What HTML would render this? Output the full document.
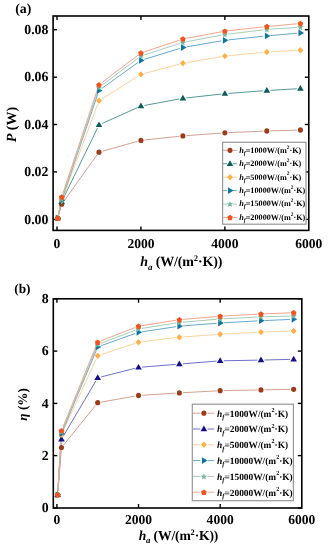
<!DOCTYPE html>
<html><head><meta charset="utf-8"><style>
html,body{margin:0;padding:0;background:#fff;}
body{width:328px;height:550px;overflow:hidden;}
svg{display:block;}
.tl{font-family:"Liberation Serif","Times New Roman",serif;font-weight:bold;fill:#000;text-rendering:geometricPrecision;}
</style></head><body>
<svg width="328" height="550" viewBox="0 0 328 550">
<text transform="translate(15.20,13.00) scale(1,1.0)" font-size="13.8" text-anchor="start" class="tl">(a)</text>
<rect x="53.10" y="16.00" width="255.70" height="214.40" fill="none" stroke="#000" stroke-width="1.6"/>
<line x1="57.00" y1="230.40" x2="57.00" y2="226.40" stroke="#000" stroke-width="1.4"/>
<line x1="57.00" y1="16.00" x2="57.00" y2="20.00" stroke="#000" stroke-width="1.4"/>
<line x1="140.93" y1="230.40" x2="140.93" y2="226.40" stroke="#000" stroke-width="1.4"/>
<line x1="140.93" y1="16.00" x2="140.93" y2="20.00" stroke="#000" stroke-width="1.4"/>
<line x1="224.87" y1="230.40" x2="224.87" y2="226.40" stroke="#000" stroke-width="1.4"/>
<line x1="224.87" y1="16.00" x2="224.87" y2="20.00" stroke="#000" stroke-width="1.4"/>
<line x1="53.10" y1="219.40" x2="57.10" y2="219.40" stroke="#000" stroke-width="1.4"/>
<line x1="308.80" y1="219.40" x2="304.80" y2="219.40" stroke="#000" stroke-width="1.4"/>
<line x1="53.10" y1="171.90" x2="57.10" y2="171.90" stroke="#000" stroke-width="1.4"/>
<line x1="308.80" y1="171.90" x2="304.80" y2="171.90" stroke="#000" stroke-width="1.4"/>
<line x1="53.10" y1="124.50" x2="57.10" y2="124.50" stroke="#000" stroke-width="1.4"/>
<line x1="308.80" y1="124.50" x2="304.80" y2="124.50" stroke="#000" stroke-width="1.4"/>
<line x1="53.10" y1="77.20" x2="57.10" y2="77.20" stroke="#000" stroke-width="1.4"/>
<line x1="308.80" y1="77.20" x2="304.80" y2="77.20" stroke="#000" stroke-width="1.4"/>
<line x1="53.10" y1="29.70" x2="57.10" y2="29.70" stroke="#000" stroke-width="1.4"/>
<line x1="308.80" y1="29.70" x2="304.80" y2="29.70" stroke="#000" stroke-width="1.4"/>
<path d="M58.73,214.73L60.72,207.67M63.80,201.27L96.87,155.13M102.43,151.23L137.47,141.37M144.51,140.02L179.32,136.28M186.49,135.63L221.28,133.07M228.46,132.65L263.24,131.15M270.43,130.89L296.81,130.11" fill="none" stroke="#d6a090" stroke-width="1"/>
<path d="M58.60,214.70L60.86,205.30M63.27,198.56L97.40,128.14M102.25,123.43L137.65,107.57M144.47,105.44L179.36,98.96M186.48,97.91L221.29,94.09M228.46,93.43L263.24,90.77M270.43,90.30L296.81,88.80" fill="none" stroke="#559a9a" stroke-width="1"/>
<path d="M58.55,214.69L60.90,204.31M62.96,197.43L97.71,104.07M102.02,98.79L137.88,76.31M144.41,73.47L179.42,64.13M186.45,62.60L221.32,56.70M228.45,55.75L263.25,52.35M270.43,51.81L296.81,50.39" fill="none" stroke="#ffd29c" stroke-width="1"/>
<path d="M58.53,214.68L60.93,203.72M62.86,196.79L97.81,93.91M101.89,88.40L138.01,62.50M144.37,59.34L179.46,48.56M186.45,46.89L221.32,40.91M228.45,39.92L263.25,36.28M270.42,35.58L296.82,33.22" fill="none" stroke="#64aacf" stroke-width="1"/>
<path d="M58.49,214.68L60.97,202.72M62.84,195.79L97.83,90.91M101.85,85.34L138.05,58.16M144.36,54.89L179.48,43.51M186.44,41.73L221.33,35.17M228.44,34.07L263.26,29.83M270.43,29.16L296.81,27.44" fill="none" stroke="#a6cdb9" stroke-width="1"/>
<path d="M58.41,214.66L61.04,200.54M62.84,193.58L97.83,88.22M101.84,82.63L138.06,55.17M144.35,51.86L179.49,40.14M186.44,38.33L221.33,31.77M228.45,30.71L263.25,26.89M270.42,26.18L296.82,23.82" fill="none" stroke="#f7a488" stroke-width="1"/>
<ellipse cx="57.76" cy="218.20" rx="2.55" ry="2.65" fill="#9c3c1a"/>
<ellipse cx="61.70" cy="204.20" rx="2.55" ry="2.65" fill="#9c3c1a"/>
<ellipse cx="98.97" cy="152.20" rx="2.55" ry="2.65" fill="#9c3c1a"/>
<ellipse cx="140.93" cy="140.40" rx="2.55" ry="2.65" fill="#9c3c1a"/>
<ellipse cx="182.90" cy="135.90" rx="2.55" ry="2.65" fill="#9c3c1a"/>
<ellipse cx="224.87" cy="132.80" rx="2.55" ry="2.65" fill="#9c3c1a"/>
<ellipse cx="266.83" cy="131.00" rx="2.55" ry="2.65" fill="#9c3c1a"/>
<ellipse cx="300.41" cy="130.00" rx="2.55" ry="2.65" fill="#9c3c1a"/>
<polygon points="57.76,214.70 61.08,220.37 54.43,220.37" fill="#0d5c5c"/>
<polygon points="61.70,198.30 65.03,203.97 58.38,203.97" fill="#0d5c5c"/>
<polygon points="98.97,121.40 102.29,127.07 95.64,127.07" fill="#0d5c5c"/>
<polygon points="140.93,102.60 144.26,108.27 137.61,108.27" fill="#0d5c5c"/>
<polygon points="182.90,94.80 186.22,100.47 179.58,100.47" fill="#0d5c5c"/>
<polygon points="224.87,90.20 228.19,95.87 221.54,95.87" fill="#0d5c5c"/>
<polygon points="266.83,87.00 270.16,92.67 263.51,92.67" fill="#0d5c5c"/>
<polygon points="300.41,85.10 303.73,90.77 297.08,90.77" fill="#0d5c5c"/>
<polygon points="57.76,215.00 60.71,218.20 57.76,221.40 54.81,218.20" fill="#ffb048"/>
<polygon points="61.70,197.60 64.65,200.80 61.70,204.00 58.75,200.80" fill="#ffb048"/>
<polygon points="98.97,97.50 101.92,100.70 98.97,103.90 96.02,100.70" fill="#ffb048"/>
<polygon points="140.93,71.20 143.88,74.40 140.93,77.60 137.98,74.40" fill="#ffb048"/>
<polygon points="182.90,60.00 185.85,63.20 182.90,66.40 179.95,63.20" fill="#ffb048"/>
<polygon points="224.87,52.90 227.82,56.10 224.87,59.30 221.92,56.10" fill="#ffb048"/>
<polygon points="266.83,48.80 269.78,52.00 266.83,55.20 263.88,52.00" fill="#ffb048"/>
<polygon points="300.41,47.00 303.36,50.20 300.41,53.40 297.46,50.20" fill="#ffb048"/>
<polygon points="61.36,218.20 55.78,214.78 55.78,221.62" fill="#12739e"/>
<polygon points="65.30,200.20 59.72,196.78 59.72,203.62" fill="#12739e"/>
<polygon points="102.57,90.50 96.99,87.08 96.99,93.92" fill="#12739e"/>
<polygon points="144.53,60.40 138.95,56.98 138.95,63.82" fill="#12739e"/>
<polygon points="186.50,47.50 180.92,44.08 180.92,50.92" fill="#12739e"/>
<polygon points="228.47,40.30 222.89,36.88 222.89,43.72" fill="#12739e"/>
<polygon points="270.43,35.90 264.85,32.48 264.85,39.32" fill="#12739e"/>
<polygon points="304.01,32.90 298.43,29.48 298.43,36.32" fill="#12739e"/>
<polygon points="57.76,215.10 58.61,217.33 60.99,217.45 59.13,218.95 59.75,221.25 57.76,219.95 55.76,221.25 56.38,218.95 54.52,217.45 56.90,217.33" fill="#72b9a0"/>
<polygon points="61.70,196.10 62.55,198.33 64.93,198.45 63.08,199.95 63.70,202.25 61.70,200.95 59.70,202.25 60.32,199.95 58.47,198.45 60.85,198.33" fill="#72b9a0"/>
<polygon points="98.97,84.40 99.82,86.63 102.20,86.75 100.35,88.25 100.97,90.55 98.97,89.25 96.97,90.55 97.59,88.25 95.73,86.75 98.11,86.63" fill="#72b9a0"/>
<polygon points="140.93,52.90 141.79,55.13 144.17,55.25 142.31,56.75 142.93,59.05 140.93,57.75 138.93,59.05 139.55,56.75 137.70,55.25 140.08,55.13" fill="#72b9a0"/>
<polygon points="182.90,39.30 183.75,41.53 186.13,41.65 184.28,43.15 184.90,45.45 182.90,44.15 180.90,45.45 181.52,43.15 179.67,41.65 182.05,41.53" fill="#72b9a0"/>
<polygon points="224.87,31.40 225.72,33.63 228.10,33.75 226.25,35.25 226.87,37.55 224.87,36.25 222.87,37.55 223.49,35.25 221.63,33.75 224.01,33.63" fill="#72b9a0"/>
<polygon points="266.83,26.30 267.69,28.53 270.07,28.65 268.21,30.15 268.83,32.45 266.83,31.15 264.83,32.45 265.45,30.15 263.60,28.65 265.98,28.53" fill="#72b9a0"/>
<polygon points="300.41,24.10 301.26,26.33 303.64,26.45 301.79,27.95 302.41,30.25 300.41,28.95 298.41,30.25 299.03,27.95 297.17,26.45 299.55,26.33" fill="#72b9a0"/>
<polygon points="57.76,215.50 60.61,217.57 59.52,220.93 55.99,220.93 54.90,217.57" fill="#f2541f"/>
<polygon points="61.70,194.30 64.55,196.37 63.46,199.73 59.94,199.73 58.85,196.37" fill="#f2541f"/>
<polygon points="98.97,82.10 101.82,84.17 100.73,87.53 97.20,87.53 96.11,84.17" fill="#f2541f"/>
<polygon points="140.93,50.30 143.79,52.37 142.70,55.73 139.17,55.73 138.08,52.37" fill="#f2541f"/>
<polygon points="182.90,36.30 185.75,38.37 184.66,41.73 181.14,41.73 180.05,38.37" fill="#f2541f"/>
<polygon points="224.87,28.40 227.72,30.47 226.63,33.83 223.10,33.83 222.01,30.47" fill="#f2541f"/>
<polygon points="266.83,23.80 269.69,25.87 268.60,29.23 265.07,29.23 263.98,25.87" fill="#f2541f"/>
<polygon points="300.41,20.80 303.26,22.87 302.17,26.23 298.64,26.23 297.55,22.87" fill="#f2541f"/>
<text transform="translate(48.40,223.55) scale(1,1.0)" font-size="13.8" text-anchor="end" class="tl">0.00</text>
<text transform="translate(48.40,176.05) scale(1,1.0)" font-size="13.8" text-anchor="end" class="tl">0.02</text>
<text transform="translate(48.40,128.65) scale(1,1.0)" font-size="13.8" text-anchor="end" class="tl">0.04</text>
<text transform="translate(48.40,81.35) scale(1,1.0)" font-size="13.8" text-anchor="end" class="tl">0.06</text>
<text transform="translate(48.40,33.85) scale(1,1.0)" font-size="13.8" text-anchor="end" class="tl">0.08</text>
<text transform="translate(57.00,247.50) scale(1,1.0)" font-size="13.55" text-anchor="middle" class="tl">0</text>
<text transform="translate(140.93,247.50) scale(1,1.0)" font-size="13.55" text-anchor="middle" class="tl">2000</text>
<text transform="translate(224.87,247.50) scale(1,1.0)" font-size="13.55" text-anchor="middle" class="tl">4000</text>
<text transform="translate(308.80,247.50) scale(1,1.0)" font-size="13.55" text-anchor="middle" class="tl">6000</text>
<text transform="translate(15.60,124.65) rotate(-90) scale(1,1.0)" font-size="14.0" text-anchor="middle" class="tl"><tspan font-style="italic">P</tspan> (W)</text>
<text transform="translate(140.30,266.40) scale(1,1.0)" font-size="14" text-anchor="start" class="tl" letter-spacing="-0.15"><tspan font-style="italic">h</tspan><tspan font-style="italic" font-size="9" dy="3.2">a</tspan><tspan dy="-3.2"> (W/(m</tspan><tspan font-size="8.6" dy="-5">2</tspan><tspan dy="5">·K))</tspan></text>
<rect x="222.60" y="142.30" width="83.40" height="81.90" fill="#fff" stroke="#979797" stroke-width="1.2"/>
<path d="M223.10,150.30L227.10,150.30M232.90,150.30L236.90,150.30" stroke="#d6a090" stroke-width="1"/>
<ellipse cx="230.00" cy="150.30" rx="2.55" ry="2.65" fill="#9c3c1a"/>
<text transform="translate(239.20,152.65) scale(1,1.0)" font-size="8.2" text-anchor="start" class="tl"><tspan font-style="italic">h</tspan><tspan font-style="italic" font-size="5.74" dy="2.05">f</tspan><tspan dy="-2.05">=1000W/(m</tspan><tspan font-size="5.33" dy="-4.10">2</tspan><tspan dy="4.10">·K)</tspan></text>
<path d="M223.10,163.74L227.10,163.74M232.90,163.74L236.90,163.74" stroke="#559a9a" stroke-width="1"/>
<polygon points="230.00,160.24 233.32,165.91 226.68,165.91" fill="#0d5c5c"/>
<text transform="translate(239.20,166.09) scale(1,1.0)" font-size="8.2" text-anchor="start" class="tl"><tspan font-style="italic">h</tspan><tspan font-style="italic" font-size="5.74" dy="2.05">f</tspan><tspan dy="-2.05">=2000W/(m</tspan><tspan font-size="5.33" dy="-4.10">2</tspan><tspan dy="4.10">·K)</tspan></text>
<path d="M223.10,177.18L227.10,177.18M232.90,177.18L236.90,177.18" stroke="#ffd29c" stroke-width="1"/>
<polygon points="230.00,173.98 232.95,177.18 230.00,180.38 227.05,177.18" fill="#ffb048"/>
<text transform="translate(239.20,179.53) scale(1,1.0)" font-size="8.2" text-anchor="start" class="tl"><tspan font-style="italic">h</tspan><tspan font-style="italic" font-size="5.74" dy="2.05">f</tspan><tspan dy="-2.05">=5000W/(m</tspan><tspan font-size="5.33" dy="-4.10">2</tspan><tspan dy="4.10">·K)</tspan></text>
<path d="M223.10,190.62L227.10,190.62M232.90,190.62L236.90,190.62" stroke="#64aacf" stroke-width="1"/>
<polygon points="233.60,190.62 228.02,187.20 228.02,194.04" fill="#12739e"/>
<text transform="translate(239.20,192.97) scale(1,1.0)" font-size="8.2" text-anchor="start" class="tl"><tspan font-style="italic">h</tspan><tspan font-style="italic" font-size="5.74" dy="2.05">f</tspan><tspan dy="-2.05">=10000W/(m</tspan><tspan font-size="5.33" dy="-4.10">2</tspan><tspan dy="4.10">·K)</tspan></text>
<path d="M223.10,204.06L227.10,204.06M232.90,204.06L236.90,204.06" stroke="#a6cdb9" stroke-width="1"/>
<polygon points="230.00,200.96 230.85,203.19 233.23,203.31 231.38,204.81 232.00,207.11 230.00,205.81 228.00,207.11 228.62,204.81 226.77,203.31 229.15,203.19" fill="#72b9a0"/>
<text transform="translate(239.20,206.41) scale(1,1.0)" font-size="8.2" text-anchor="start" class="tl"><tspan font-style="italic">h</tspan><tspan font-style="italic" font-size="5.74" dy="2.05">f</tspan><tspan dy="-2.05">=15000W/(m</tspan><tspan font-size="5.33" dy="-4.10">2</tspan><tspan dy="4.10">·K)</tspan></text>
<path d="M223.10,217.50L227.10,217.50M232.90,217.50L236.90,217.50" stroke="#f7a488" stroke-width="1"/>
<polygon points="230.00,214.80 232.85,216.87 231.76,220.23 228.24,220.23 227.15,216.87" fill="#f2541f"/>
<text transform="translate(239.20,219.85) scale(1,1.0)" font-size="8.2" text-anchor="start" class="tl"><tspan font-style="italic">h</tspan><tspan font-style="italic" font-size="5.74" dy="2.05">f</tspan><tspan dy="-2.05">=20000W/(m</tspan><tspan font-size="5.33" dy="-4.10">2</tspan><tspan dy="4.10">·K)</tspan></text>
<text transform="translate(14.20,293.30) scale(1,1.0)" font-size="13.3" text-anchor="start" class="tl">(b)</text>
<rect x="53.30" y="298.80" width="248.50" height="209.20" fill="none" stroke="#000" stroke-width="1.6"/>
<line x1="56.90" y1="508.00" x2="56.90" y2="504.00" stroke="#000" stroke-width="1.4"/>
<line x1="56.90" y1="298.80" x2="56.90" y2="302.80" stroke="#000" stroke-width="1.4"/>
<line x1="138.53" y1="508.00" x2="138.53" y2="504.00" stroke="#000" stroke-width="1.4"/>
<line x1="138.53" y1="298.80" x2="138.53" y2="302.80" stroke="#000" stroke-width="1.4"/>
<line x1="220.17" y1="508.00" x2="220.17" y2="504.00" stroke="#000" stroke-width="1.4"/>
<line x1="220.17" y1="298.80" x2="220.17" y2="302.80" stroke="#000" stroke-width="1.4"/>
<line x1="53.30" y1="508.00" x2="57.30" y2="508.00" stroke="#000" stroke-width="1.4"/>
<line x1="301.80" y1="508.00" x2="297.80" y2="508.00" stroke="#000" stroke-width="1.4"/>
<line x1="53.30" y1="455.60" x2="57.30" y2="455.60" stroke="#000" stroke-width="1.4"/>
<line x1="301.80" y1="455.60" x2="297.80" y2="455.60" stroke="#000" stroke-width="1.4"/>
<line x1="53.30" y1="403.40" x2="57.30" y2="403.40" stroke="#000" stroke-width="1.4"/>
<line x1="301.80" y1="403.40" x2="297.80" y2="403.40" stroke="#000" stroke-width="1.4"/>
<line x1="53.30" y1="351.10" x2="57.30" y2="351.10" stroke="#000" stroke-width="1.4"/>
<line x1="301.80" y1="351.10" x2="297.80" y2="351.10" stroke="#000" stroke-width="1.4"/>
<line x1="53.30" y1="298.80" x2="57.30" y2="298.80" stroke="#000" stroke-width="1.4"/>
<line x1="301.80" y1="298.80" x2="297.80" y2="298.80" stroke="#000" stroke-width="1.4"/>
<path d="M57.93,491.21L61.18,451.19M63.73,444.80L95.46,405.50M101.26,402.07L134.99,396.13M142.13,395.27L175.76,393.13M182.94,392.71L216.57,390.89M223.77,390.63L257.38,389.97M264.58,389.83L290.04,389.37" fill="none" stroke="#d6a090" stroke-width="1"/>
<path d="M57.88,491.21L61.22,442.89M63.30,436.20L95.89,380.90M101.21,376.91L135.04,368.29M142.12,367.11L175.76,364.39M182.94,363.81L216.58,361.09M223.77,360.74L257.38,360.16M264.58,360.01L290.04,359.39" fill="none" stroke="#7070cd" stroke-width="1"/>
<path d="M57.86,491.21L61.24,438.09M62.98,431.23L96.21,359.07M101.13,354.66L135.12,343.34M142.11,341.76L175.78,337.64M182.94,336.94L216.58,334.56M223.76,334.11L257.39,332.29M264.58,331.98L290.04,331.12" fill="none" stroke="#ffd29c" stroke-width="1"/>
<path d="M57.86,491.21L61.25,437.09M62.86,430.18L96.33,350.22M101.11,345.69L135.14,333.51M142.09,331.77L175.79,326.73M182.94,325.92L216.58,323.28M223.76,322.80L257.39,320.90M264.58,320.55L290.04,319.45" fill="none" stroke="#64aacf" stroke-width="1"/>
<path d="M57.85,491.21L61.25,435.59M62.85,428.67L96.34,347.83M101.08,343.22L135.17,330.28M142.09,328.43L175.79,323.07M182.94,322.19L216.58,319.31M223.76,318.81L257.39,316.99M264.58,316.71L290.04,316.09" fill="none" stroke="#a6cdb9" stroke-width="1"/>
<path d="M57.85,491.21L61.26,434.19M62.84,427.27L96.35,345.53M101.07,340.89L135.18,327.51M142.09,325.63L175.79,320.27M182.94,319.39L216.58,316.51M223.76,316.01L257.39,314.19M264.58,313.86L290.04,312.84" fill="none" stroke="#f7a488" stroke-width="1"/>
<ellipse cx="57.63" cy="494.80" rx="2.55" ry="2.65" fill="#9c3c1a"/>
<ellipse cx="61.47" cy="447.60" rx="2.55" ry="2.65" fill="#9c3c1a"/>
<ellipse cx="97.72" cy="402.70" rx="2.55" ry="2.65" fill="#9c3c1a"/>
<ellipse cx="138.53" cy="395.50" rx="2.55" ry="2.65" fill="#9c3c1a"/>
<ellipse cx="179.35" cy="392.90" rx="2.55" ry="2.65" fill="#9c3c1a"/>
<ellipse cx="220.17" cy="390.70" rx="2.55" ry="2.65" fill="#9c3c1a"/>
<ellipse cx="260.98" cy="389.90" rx="2.55" ry="2.65" fill="#9c3c1a"/>
<ellipse cx="293.64" cy="389.30" rx="2.55" ry="2.65" fill="#9c3c1a"/>
<polygon points="57.63,491.30 60.96,496.97 54.31,496.97" fill="#10108c"/>
<polygon points="61.47,435.80 64.80,441.47 58.15,441.47" fill="#10108c"/>
<polygon points="97.72,374.30 101.04,379.97 94.39,379.97" fill="#10108c"/>
<polygon points="138.53,363.90 141.86,369.57 135.21,369.57" fill="#10108c"/>
<polygon points="179.35,360.60 182.67,366.27 176.03,366.27" fill="#10108c"/>
<polygon points="220.17,357.30 223.49,362.97 216.84,362.97" fill="#10108c"/>
<polygon points="260.98,356.60 264.31,362.27 257.66,362.27" fill="#10108c"/>
<polygon points="293.64,355.80 296.96,361.47 290.31,361.47" fill="#10108c"/>
<polygon points="57.63,491.60 60.58,494.80 57.63,498.00 54.68,494.80" fill="#ffb048"/>
<polygon points="61.47,431.30 64.42,434.50 61.47,437.70 58.52,434.50" fill="#ffb048"/>
<polygon points="97.72,352.60 100.67,355.80 97.72,359.00 94.77,355.80" fill="#ffb048"/>
<polygon points="138.53,339.00 141.48,342.20 138.53,345.40 135.58,342.20" fill="#ffb048"/>
<polygon points="179.35,334.00 182.30,337.20 179.35,340.40 176.40,337.20" fill="#ffb048"/>
<polygon points="220.17,331.10 223.12,334.30 220.17,337.50 217.22,334.30" fill="#ffb048"/>
<polygon points="260.98,328.90 263.93,332.10 260.98,335.30 258.03,332.10" fill="#ffb048"/>
<polygon points="293.64,327.80 296.59,331.00 293.64,334.20 290.69,331.00" fill="#ffb048"/>
<polygon points="61.23,494.80 55.65,491.38 55.65,498.22" fill="#12739e"/>
<polygon points="65.07,433.50 59.49,430.08 59.49,436.92" fill="#12739e"/>
<polygon points="101.32,346.90 95.74,343.48 95.74,350.32" fill="#12739e"/>
<polygon points="142.13,332.30 136.55,328.88 136.55,335.72" fill="#12739e"/>
<polygon points="182.95,326.20 177.37,322.78 177.37,329.62" fill="#12739e"/>
<polygon points="223.77,323.00 218.19,319.58 218.19,326.42" fill="#12739e"/>
<polygon points="264.58,320.70 259.00,317.28 259.00,324.12" fill="#12739e"/>
<polygon points="297.24,319.30 291.66,315.88 291.66,322.72" fill="#12739e"/>
<polygon points="57.63,491.70 58.49,493.93 60.87,494.05 59.01,495.55 59.63,497.85 57.63,496.55 55.64,497.85 56.26,495.55 54.40,494.05 56.78,493.93" fill="#72b9a0"/>
<polygon points="61.47,428.90 62.32,431.13 64.71,431.25 62.85,432.75 63.47,435.05 61.47,433.75 59.47,435.05 60.09,432.75 58.24,431.25 60.62,431.13" fill="#72b9a0"/>
<polygon points="97.72,341.40 98.57,343.63 100.95,343.75 99.10,345.25 99.72,347.55 97.72,346.25 95.72,347.55 96.34,345.25 94.48,343.75 96.86,343.63" fill="#72b9a0"/>
<polygon points="138.53,325.90 139.39,328.13 141.77,328.25 139.91,329.75 140.53,332.05 138.53,330.75 136.53,332.05 137.15,329.75 135.30,328.25 137.68,328.13" fill="#72b9a0"/>
<polygon points="179.35,319.40 180.20,321.63 182.58,321.75 180.73,323.25 181.35,325.55 179.35,324.25 177.35,325.55 177.97,323.25 176.12,321.75 178.50,321.63" fill="#72b9a0"/>
<polygon points="220.17,315.90 221.02,318.13 223.40,318.25 221.55,319.75 222.17,322.05 220.17,320.75 218.17,322.05 218.79,319.75 216.93,318.25 219.31,318.13" fill="#72b9a0"/>
<polygon points="260.98,313.70 261.84,315.93 264.22,316.05 262.36,317.55 262.98,319.85 260.98,318.55 258.98,319.85 259.60,317.55 257.75,316.05 260.13,315.93" fill="#72b9a0"/>
<polygon points="293.64,312.90 294.49,315.13 296.87,315.25 295.02,316.75 295.64,319.05 293.64,317.75 291.64,319.05 292.26,316.75 290.40,315.25 292.78,315.13" fill="#72b9a0"/>
<polygon points="57.63,492.10 60.49,494.17 59.40,497.53 55.87,497.53 54.78,494.17" fill="#f2541f"/>
<polygon points="61.47,427.90 64.32,429.97 63.23,433.33 59.71,433.33 58.62,429.97" fill="#f2541f"/>
<polygon points="97.72,339.50 100.57,341.57 99.48,344.93 95.95,344.93 94.86,341.57" fill="#f2541f"/>
<polygon points="138.53,323.50 141.39,325.57 140.30,328.93 136.77,328.93 135.68,325.57" fill="#f2541f"/>
<polygon points="179.35,317.00 182.20,319.07 181.11,322.43 177.59,322.43 176.50,319.07" fill="#f2541f"/>
<polygon points="220.17,313.50 223.02,315.57 221.93,318.93 218.40,318.93 217.31,315.57" fill="#f2541f"/>
<polygon points="260.98,311.30 263.84,313.37 262.75,316.73 259.22,316.73 258.13,313.37" fill="#f2541f"/>
<polygon points="293.64,310.00 296.49,312.07 295.40,315.43 291.87,315.43 290.78,312.07" fill="#f2541f"/>
<text transform="translate(48.60,512.15) scale(1,1.0)" font-size="13.8" text-anchor="end" class="tl">0</text>
<text transform="translate(48.60,459.75) scale(1,1.0)" font-size="13.8" text-anchor="end" class="tl">2</text>
<text transform="translate(48.60,407.55) scale(1,1.0)" font-size="13.8" text-anchor="end" class="tl">4</text>
<text transform="translate(48.60,355.25) scale(1,1.0)" font-size="13.8" text-anchor="end" class="tl">6</text>
<text transform="translate(48.60,302.95) scale(1,1.0)" font-size="13.8" text-anchor="end" class="tl">8</text>
<text transform="translate(56.90,523.50) scale(1,1.0)" font-size="13.55" text-anchor="middle" class="tl">0</text>
<text transform="translate(138.53,523.50) scale(1,1.0)" font-size="13.55" text-anchor="middle" class="tl">2000</text>
<text transform="translate(220.17,523.50) scale(1,1.0)" font-size="13.55" text-anchor="middle" class="tl">4000</text>
<text transform="translate(301.80,523.50) scale(1,1.0)" font-size="13.55" text-anchor="middle" class="tl">6000</text>
<text transform="translate(26.80,404.40) rotate(-90) scale(1,1.0)" font-size="13.2" text-anchor="middle" class="tl"><tspan font-style="italic">η</tspan> (%)</text>
<text transform="translate(138.70,540.20) scale(1,1.0)" font-size="13.6" text-anchor="start" class="tl" letter-spacing="-0.15"><tspan font-style="italic">h</tspan><tspan font-style="italic" font-size="8.8" dy="3.2">a</tspan><tspan dy="-3.2"> (W/(m</tspan><tspan font-size="8.4" dy="-5">2</tspan><tspan dy="5">·K))</tspan></text>
<rect x="192.30" y="404.20" width="101.10" height="96.50" fill="#fff" stroke="#979797" stroke-width="1.2"/>
<path d="M192.90,413.20L200.30,413.20M207.50,413.20L214.20,413.20" stroke="#d6a090" stroke-width="1"/>
<ellipse cx="203.90" cy="413.20" rx="2.55" ry="2.65" fill="#9c3c1a"/>
<text transform="translate(217.00,416.58) scale(1,1.0)" font-size="9.4" text-anchor="start" class="tl"><tspan font-style="italic">h</tspan><tspan font-style="italic" font-size="6.58" dy="2.35">f</tspan><tspan dy="-2.35">=1000W/(m</tspan><tspan font-size="6.11" dy="-4.70">2</tspan><tspan dy="4.70">·K)</tspan></text>
<path d="M192.90,429.00L200.30,429.00M207.50,429.00L214.20,429.00" stroke="#7070cd" stroke-width="1"/>
<polygon points="203.90,425.50 207.22,431.17 200.58,431.17" fill="#10108c"/>
<text transform="translate(217.00,432.38) scale(1,1.0)" font-size="9.4" text-anchor="start" class="tl"><tspan font-style="italic">h</tspan><tspan font-style="italic" font-size="6.58" dy="2.35">f</tspan><tspan dy="-2.35">=2000W/(m</tspan><tspan font-size="6.11" dy="-4.70">2</tspan><tspan dy="4.70">·K)</tspan></text>
<path d="M192.90,444.80L200.30,444.80M207.50,444.80L214.20,444.80" stroke="#ffd29c" stroke-width="1"/>
<polygon points="203.90,441.60 206.85,444.80 203.90,448.00 200.95,444.80" fill="#ffb048"/>
<text transform="translate(217.00,448.18) scale(1,1.0)" font-size="9.4" text-anchor="start" class="tl"><tspan font-style="italic">h</tspan><tspan font-style="italic" font-size="6.58" dy="2.35">f</tspan><tspan dy="-2.35">=5000W/(m</tspan><tspan font-size="6.11" dy="-4.70">2</tspan><tspan dy="4.70">·K)</tspan></text>
<path d="M192.90,460.60L200.30,460.60M207.50,460.60L214.20,460.60" stroke="#64aacf" stroke-width="1"/>
<polygon points="207.50,460.60 201.92,457.18 201.92,464.02" fill="#12739e"/>
<text transform="translate(217.00,463.98) scale(1,1.0)" font-size="9.4" text-anchor="start" class="tl"><tspan font-style="italic">h</tspan><tspan font-style="italic" font-size="6.58" dy="2.35">f</tspan><tspan dy="-2.35">=10000W/(m</tspan><tspan font-size="6.11" dy="-4.70">2</tspan><tspan dy="4.70">·K)</tspan></text>
<path d="M192.90,476.40L200.30,476.40M207.50,476.40L214.20,476.40" stroke="#a6cdb9" stroke-width="1"/>
<polygon points="203.90,473.30 204.75,475.53 207.13,475.65 205.28,477.15 205.90,479.45 203.90,478.15 201.90,479.45 202.52,477.15 200.67,475.65 203.05,475.53" fill="#72b9a0"/>
<text transform="translate(217.00,479.78) scale(1,1.0)" font-size="9.4" text-anchor="start" class="tl"><tspan font-style="italic">h</tspan><tspan font-style="italic" font-size="6.58" dy="2.35">f</tspan><tspan dy="-2.35">=15000W/(m</tspan><tspan font-size="6.11" dy="-4.70">2</tspan><tspan dy="4.70">·K)</tspan></text>
<path d="M192.90,492.20L200.30,492.20M207.50,492.20L214.20,492.20" stroke="#f7a488" stroke-width="1"/>
<polygon points="203.90,489.50 206.75,491.57 205.66,494.93 202.14,494.93 201.05,491.57" fill="#f2541f"/>
<text transform="translate(217.00,495.58) scale(1,1.0)" font-size="9.4" text-anchor="start" class="tl"><tspan font-style="italic">h</tspan><tspan font-style="italic" font-size="6.58" dy="2.35">f</tspan><tspan dy="-2.35">=20000W/(m</tspan><tspan font-size="6.11" dy="-4.70">2</tspan><tspan dy="4.70">·K)</tspan></text>
</svg>
</body></html>
